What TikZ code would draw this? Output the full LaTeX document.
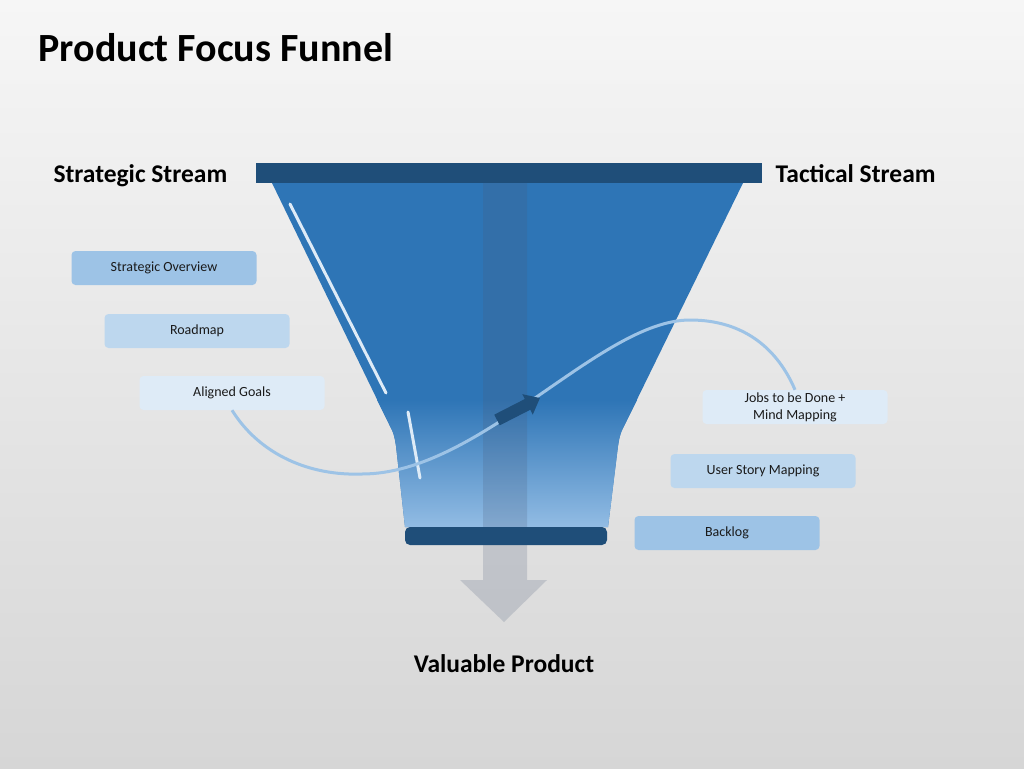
\documentclass[tikz,border=0pt]{standalone}
\usepackage{fontspec}
\setmainfont{Carlito}
\usepackage{tikz}
\usetikzlibrary{arrows.meta,positioning}
\definecolor{barblue}{HTML}{1F4E79}
\definecolor{funnelblue}{HTML}{2E75B6}
\definecolor{funnellow}{HTML}{92BCE4}
\definecolor{boxdark}{HTML}{9DC3E6}
\definecolor{boxmid}{HTML}{BDD7EE}
\definecolor{boxlight}{HTML}{DEEBF7}
\definecolor{inkgray}{HTML}{1A1A1A}
\definecolor{shaftgray}{HTML}{4A5A78}
\definecolor{bgtop}{HTML}{F6F6F6}
\definecolor{bgbottom}{HTML}{D6D6D6}

\begin{document}
\begin{tikzpicture}[x=1pt, y=-1pt, >=Stealth,
  tool/.style={rounded corners=4pt, minimum width=185pt, minimum height=34pt, inner sep=0pt, align=center, text=inkgray, font=\fontsize{14}{17}\selectfont},
  stream/.style={font=\bfseries\fontsize{25.5}{30}\selectfont, text=black, text height=18pt, text depth=0pt},
  bar/.style={fill=barblue, inner sep=0pt},
  flow/.style={line width=3pt, boxdark},
  glint/.style={line width=3pt, boxlight, line cap=round}]
\useasboundingbox (0,0) rectangle (1024,768);
\shade[top color=bgtop, bottom color=bgbottom] (0,0) rectangle (1024,768);
% funnel body
\fill[funnelblue] (272,183) -- (743,183) -- (626,422) .. controls (620,434) .. (618,446) -- (608,527) -- (405,527) -- (396,446) .. controls (394,434) .. (388,422) -- cycle;
\shade[top color=funnelblue, bottom color=funnellow] (377,400) -- (637,400) -- (626,422) .. controls (620,434) .. (618,446) -- (608,527) -- (405,527) -- (396,446) .. controls (394,434) .. (388,422) -- cycle;
\fill[shaftgray, opacity=0.2] (483,183) -- (527,183) -- (527,580) -- (547,580) -- (504,622) -- (460,580) -- (483,580) -- cycle;
\node[bar, minimum width=506pt, minimum height=20pt] (top) at (509,173) {};
\node[bar, rounded corners=5pt, minimum width=202pt, minimum height=18pt] (neck) at (506,536) {};
\draw[glint] (290,204) -- (386,393);
\draw[glint] (408,412) -- (420,478);
% labels
\node[font=\bfseries\fontsize{40}{46}\selectfont, anchor=west] (title) at (35,48) {Product Focus Funnel};
\node[stream, left=25pt of top] (strat) {Strategic Stream};
\node[stream, right=10pt of top] (tact) {Tactical Stream};
\node[stream] (value) at (504,663) {Valuable Product};
% steps
\node[tool, fill=boxdark] (overview) at (164,268) {Strategic Overview};
\node[tool, fill=boxmid] (roadmap) at (197,331) {Roadmap};
\node[tool, fill=boxlight] (goals) at (232,393) {Aligned Goals};
\node[tool, fill=boxlight] (jobs) at (795,407) {Jobs to be Done +\\ Mind Mapping};
\node[tool, fill=boxmid] (story) at (763,471) {User Story Mapping};
\node[tool, fill=boxdark] (backlog) at (727,533) {Backlog};
\coordinate (dip) at (362,474);
\coordinate (crest) at (690,320);
\draw[flow] (goals.south) .. controls (260,455) and (310,476) .. (dip) .. controls (480,474) and (600,320) .. (crest) .. controls (745,320) and (778,350) .. (jobs.north);
\coordinate (tail) at (497,420);
\coordinate (head) at (540,398);
\draw[barblue, line width=12pt, -{Triangle[length=14pt, width=22pt]}] (tail) -- (head);
\end{tikzpicture}
\end{document}
